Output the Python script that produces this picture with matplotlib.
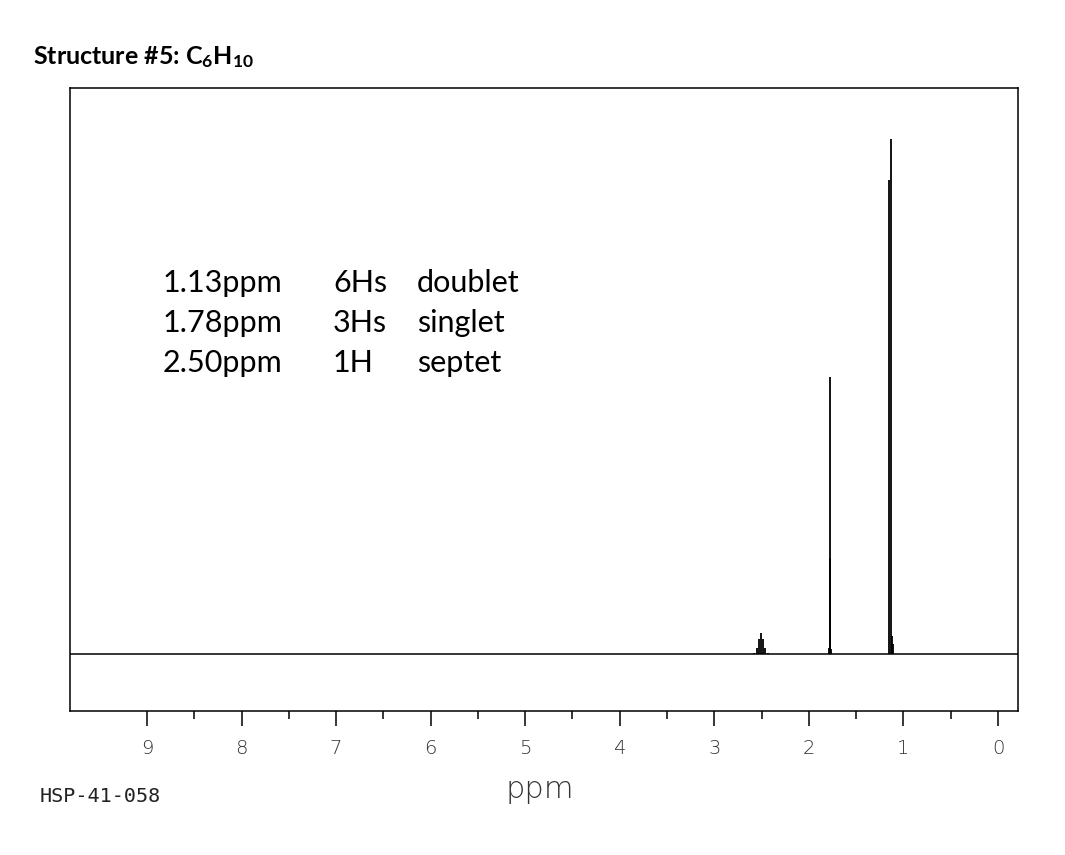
#! /usr/bin/env python3

import matplotlib
matplotlib.use('Agg')
import matplotlib.pyplot as plt
from matplotlib.ticker import FixedLocator

# peak list: position (ppm) and height (arbitrary units)
doublet_ppm = [1.153, 1.132, 1.122, 1.105]
doublet_height = [474, 515, 18, 10]
singlet_ppm = [1.787, 1.780, 1.775, 1.765]
singlet_height = [6, 277, 96, 5]
septet_ppm = [2.575, 2.552, 2.529, 2.506, 2.483, 2.460, 2.437]
septet_height = [1, 6, 15, 21, 15, 6, 1]

major_ticks = [0, 1, 2, 3, 4, 5, 6, 7, 8, 9]
minor_ticks = [0.5, 1.5, 2.5, 3.5, 4.5, 5.5, 6.5, 7.5, 8.5]

notes = [('1.13ppm', '6Hs', 'doublet'),
         ('1.78ppm', '3Hs', 'singlet'),
         ('2.50ppm', '1H', 'septet')]

plt.rcParams['mathtext.fontset'] = 'custom'
plt.rcParams['mathtext.rm'] = 'Lato'
plt.rcParams['mathtext.bf'] = 'Lato:bold'

fig = plt.figure(figsize=(10.65, 8.55), dpi=100)
ax = fig.add_axes([0.0657, 0.1684, 0.8901, 0.7287])

ax.axhline(0, color='black', lw=1.1)
for pos, h in [(doublet_ppm, doublet_height), (singlet_ppm, singlet_height),
               (septet_ppm, septet_height)]:
    ax.vlines(pos, 0, h, color='black', lw=1.3)

ax.set_xlim(9.814, -0.211)
ax.set_ylim(-57, 566)
ax.xaxis.set_major_locator(FixedLocator(major_ticks))
ax.xaxis.set_minor_locator(FixedLocator(minor_ticks))
ax.set_yticks([])
for s in ax.spines.values():
    s.set_linewidth(1.1)
ax.tick_params(axis='x', which='major', direction='out', length=11, width=1.1,
               pad=9, labelsize=14, labelcolor='#333333')
ax.tick_params(axis='x', which='minor', direction='out', length=5.5, width=1.1)
for lbl in ax.get_xticklabels():
    lbl.set_fontfamily('DejaVu Sans')
    lbl.set_fontweight('light')

fig.text(540 / 1065, 1 - 790 / 855, 'ppm', ha='center', va='center',
         fontsize=22, color='#333333', fontweight='light')
fig.text(40 / 1065, 1 - 796 / 855, 'HSP-41-058', ha='left', va='center',
         fontsize=14.5, family='DejaVu Sans Mono', color='#222222')

fig.text(33 / 1065, 1 - 57 / 855, r'Structure #5: $\mathbf{C_6H_{10}}$',
         ha='left', va='center', fontsize=18, fontweight='bold',
         family=['Lato', 'DejaVu Sans'])

col_x = [163, 333, 417]
for i, row in enumerate(notes):
    y = 1 - (283 + 40 * i) / 855
    for cx, txt in zip(col_x, row):
        fig.text(cx / 1065, y, txt, ha='left', va='center', fontsize=22,
                 family=['Lato', 'DejaVu Sans'])

plt.savefig('out.png', dpi=100)
